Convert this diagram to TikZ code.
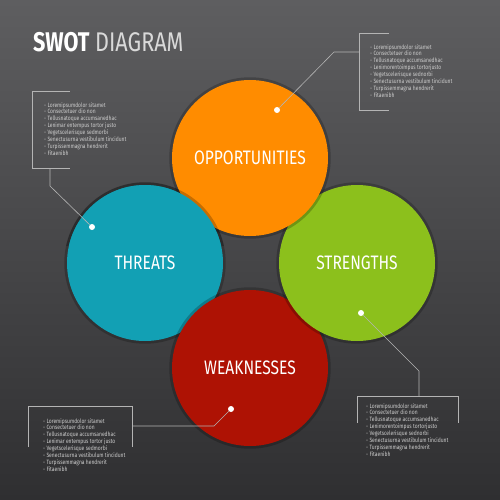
\documentclass[tikz,border=0pt]{standalone}
\usepackage{fontspec}
\setmainfont{Fira Sans}
\newfontfamily\condfont[FakeStretch=0.8]{Fira Sans}
\usepackage{xcolor}
\usetikzlibrary{shadows, positioning}
\definecolor{bgtop}{HTML}{5E5E60}
\definecolor{bgbot}{HTML}{2F2F31}
\definecolor{oppcol}{HTML}{FF8C00}
\definecolor{thrcol}{HTML}{12A0B4}
\definecolor{strcol}{HTML}{8CC01C}
\definecolor{weacol}{HTML}{AE1204}
\definecolor{linecol}{HTML}{B4B4B4}
\definecolor{textcol}{HTML}{CDCDCD}

\newcommand{\loremA}{- Loremipsumdolor sitamet\\- Consectetuer dio non\\- Tellusnatoque accumsanedhac\\- Lenimar entempus tortor justo\\- Vegetscelerisque sedmorbi\\- Senectusurna vestibulum tincidunt\\- Turpissemmagna hendrerit\\- Fitaenibh}
\newcommand{\loremB}{- Loremipsumdolor sitamet\\- Consectetuer dio non\\- Tellusnatoque accumsanedhac\\- Lenimorentoimpus tortorjusto\\- Vegetscelerisque sednorbi\\- Senectusurna vestibulum tincidunt\\- Turpissemmagna hendrerit\\- Fitaenibh}

\begin{document}
\begin{tikzpicture}[x=1pt, y=-1pt,
    swot/.style={circle, minimum size=156pt, inner sep=0pt, text=white,
        font=\condfont\fontsize{19.5}{19.5}\selectfont,
        drop shadow={shadow xshift=0pt, shadow yshift=0pt, shadow scale=1.035, fill=black, opacity=.22}},
    dot/.style={circle, fill=white, inner sep=0pt, minimum size=6pt},
    leader/.style={draw=linecol, line width=0.6pt},
    lorem/.style={anchor=north west, inner sep=0pt, align=left, text=textcol,
        font=\condfont\fontsize{6.2}{6.86}\selectfont}]
        \shade[top color=bgtop, bottom color=bgbot] (0,0) rectangle (500,500);
        \useasboundingbox (0,0) rectangle (500,500);

        \node[anchor=base west, inner sep=0pt, font=\condfont\fontsize{27}{27}\selectfont] (title) at (33,52)
            {\textcolor{white}{\bfseries SWOT} \textcolor{gray!30}{DIAGRAM}};

        \node[swot, fill=thrcol] (thr) at (145,263) {THREATS};
        \node[swot, fill=weacol] (wea) at (250,368) {WEAKNESSES};
        \node[swot, fill=strcol] (str) at (357,263) {STRENGTHS};
        \node[swot, fill=oppcol] (opp) at (250,158) {OPPORTUNITIES};
        \begin{scope}
            \clip (0,0) rectangle (500,245);
            \fill[black, opacity=.22] (thr.center) circle (80.7);
            \fill[thrcol] (thr.center) circle (78);
        \end{scope}

        \node[lorem] (tltext) at (44,102) {\loremA};
        \node[lorem] (trtext) at (370,44) {\loremB};
        \node[lorem] (bltext) at (43,418) {\loremA};
        \node[lorem] (brtext) at (366,403) {\loremB};

        \node[dot] (tldot) at (92,227) {};
        \node[dot] (trdot) at (277,110) {};
        \node[dot] (bldot) at (231,409) {};
        \node[dot] (brdot) at (361,313) {};

        \coordinate (tlb) at (50,168);
        \coordinate (trb) at (359,52);
        \coordinate (blb) at (132,426);
        \coordinate (brb) at (419,396);

        \draw[leader] (70,91) -- (32,91) -- (32,168) -- (70,168);
        \draw[leader] (389,33) -- (359,33) -- (359,110) -- (389,110);
        \draw[leader] (28,447) -- (28,406) -- (132,406) -- (132,447);
        \draw[leader] (357,423) -- (357,396) -- (458,396) -- (458,423);

        \draw[leader] (tlb) -- ++(0,18) -- (tldot);
        \draw[leader] (trb) -- ++(-25,0) -- (trdot);
        \draw[leader] (blb) -- ++(82,0) -- (bldot);
        \draw[leader] (brb) -- ++(0,-25) -- (brdot);
\end{tikzpicture}
\end{document}
